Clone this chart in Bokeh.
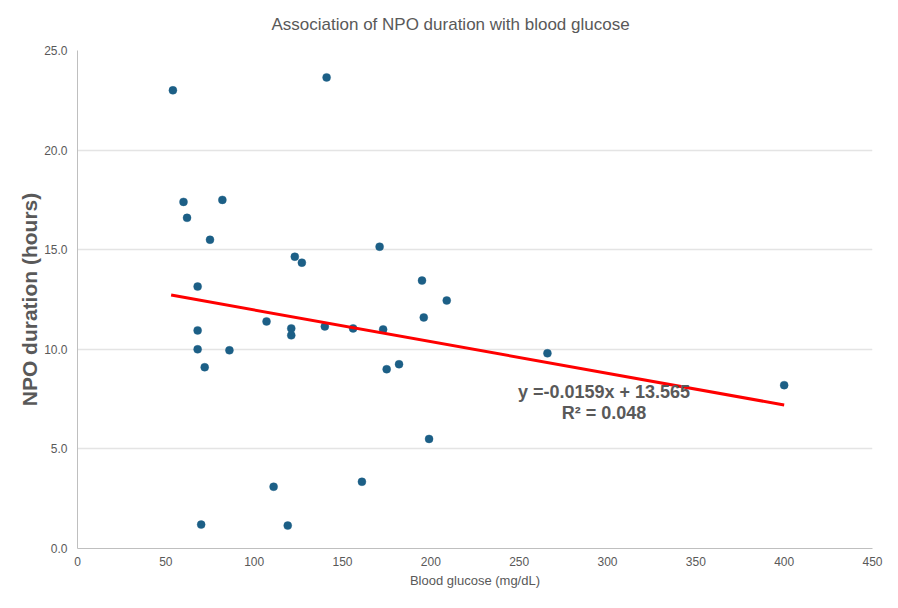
from bokeh.plotting import figure
from bokeh.models import Range1d, FixedTicker, NumeralTickFormatter
from bokeh.core.properties import value
from bokeh.embed import file_html
from bokeh.resources import INLINE

# data
glucose = [54, 141, 60, 62, 82, 75, 68, 123, 127, 171, 195, 209, 196,
           107, 121, 121, 140, 156, 173, 175, 182, 68, 68, 72, 86,
           70, 111, 119, 161, 199, 266, 400]
npo_hours = [23.0, 23.65, 17.4, 16.6, 17.5, 15.5, 13.15, 14.65, 14.35, 15.15, 13.45, 12.45, 11.6,
             11.4, 11.05, 10.7, 11.15, 11.05, 11.0, 9.0, 9.25, 10.95, 10.0, 9.1, 9.95,
             1.2, 3.1, 1.15, 3.35, 5.5, 9.8, 8.2]

# trendline as printed on the chart
slope = -0.0159
intercept = 13.565
trend_x = [53, 400]
trend_y = [slope * x + intercept for x in trend_x]
eq_labels = ["y =-0.0159x + 13.565", "R\u00b2 = 0.048"]
eq_x = [298, 298]
eq_y = [7.86, 6.8]

x_ticks = [0, 50, 100, 150, 200, 250, 300, 350, 400, 450]
y_ticks = [0, 5, 10, 15, 20, 25]

FONT = "Liberation Sans"
GREY = "#595959"

p = figure(title="Association of NPO duration with blood glucose",
           frame_width=795, frame_height=498,
           min_border_left=77, min_border_right=18, min_border_top=50, min_border_bottom=58,
           x_range=Range1d(0, 450), y_range=Range1d(0, 25),
           x_axis_label="Blood glucose (mg/dL)", y_axis_label="NPO duration (hours)",
           output_backend="svg", toolbar_location=None)

p.title.align = "left"
p.title.offset = 194
p.title.vertical_align = "top"
p.title.text_font = FONT
p.title.text_font_size = "17px"
p.title.text_font_style = "normal"
p.title.text_color = GREY
p.title.standoff = 29

p.outline_line_color = None
p.xgrid.visible = False
p.ygrid.grid_line_color = "#e4e4e4"
p.ygrid.grid_line_width = 1.3

for ax in (p.xaxis[0], p.yaxis[0]):
    ax.axis_line_color = "#bfbfbf"
    ax.major_tick_out = 0
    ax.major_tick_in = 0
    ax.minor_tick_out = 0
    ax.minor_tick_in = 0
    ax.major_label_text_font = FONT
    ax.major_label_text_font_size = "12px"
    ax.major_label_text_color = GREY
    ax.axis_label_text_font = FONT
    ax.axis_label_text_color = GREY

p.xaxis.ticker = FixedTicker(ticks=x_ticks)
p.yaxis.ticker = FixedTicker(ticks=y_ticks)
p.yaxis.formatter = NumeralTickFormatter(format="0.0")
p.xaxis.major_label_standoff = 8
p.yaxis.major_label_standoff = 10
p.xaxis.axis_label_standoff = 4
p.yaxis.axis_label_standoff = 0
p.xaxis.axis_label_text_font_size = "13px"
p.xaxis.axis_label_text_font_style = "normal"
p.yaxis.axis_label_text_font_size = "21px"
p.yaxis.axis_label_text_font_style = "bold"

p.scatter(glucose, npo_hours, size=8, fill_color="#1c5f86", line_color="#1c5f86", line_alpha=0.4)
p.line(trend_x, trend_y, line_color="#ff0000", line_width=3)
p.text(eq_x, eq_y, text=eq_labels, text_align="center", text_baseline="middle",
       text_font=value(FONT), text_font_size="18px", text_font_style="bold", text_color=GREY)

open("out.html", "w").write(file_html(p, INLINE))
